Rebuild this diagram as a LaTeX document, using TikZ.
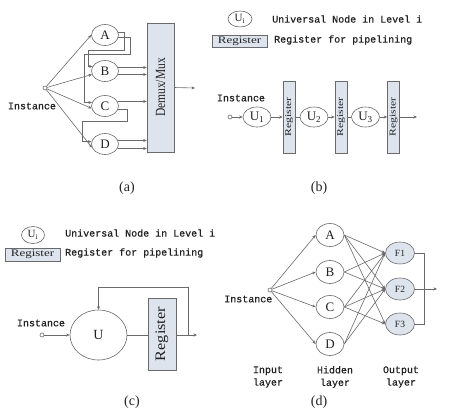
\documentclass[tikz,border=0pt]{standalone}
\usepackage{fontspec}
\setmainfont{Liberation Serif}
\newfontfamily\mono[FakeBold=0.6]{Liberation Mono}
\newfontfamily\wserif[FakeStretch=1.3]{Liberation Serif}
\newfontfamily\mserif[FakeStretch=1.12]{Liberation Serif}
\newfontfamily\nserif[FakeStretch=0.82]{Liberation Serif}
\usetikzlibrary{shapes.geometric,arrows.meta}
\definecolor{linegray}{HTML}{6A6A6A}
\definecolor{regfill}{HTML}{DDE4EE}
\definecolor{txt}{HTML}{222222}
\tikzset{
  ln/.style={draw=linegray, line width=0.6pt},
  arr/.style={ln, -{Stealth[length=3.5pt,width=3pt]}},
  nd/.style={ellipse, draw=linegray, line width=0.6pt, fill=white, inner sep=0pt,
    minimum width=27pt, minimum height=21pt, font=\fontsize{13}{13}\selectfont, text=txt},
  fnd/.style={nd, fill=regfill, minimum width=29pt, minimum height=22pt, font=\fontsize{9.5}{9.5}\selectfont},
  regbox/.style={rectangle, draw=linegray, line width=0.6pt, fill=regfill, inner sep=0pt, text=txt},
  dot/.style={circle, draw=linegray, line width=0.6pt, fill=white, inner sep=0pt, minimum size=4pt},
  mtxt/.style={font=\mono\fontsize{10}{12}\selectfont, text=txt, inner sep=0pt},
  captxt/.style={font=\fontsize{14}{14}\selectfont, text=txt, inner sep=0pt},
}
\begin{document}
\begin{tikzpicture}[x=1pt,y=-1pt]
\useasboundingbox (0,0) rectangle (474,413);
\fill[white] (0,0) rectangle (474,413);

% ---------------- (a) ----------------
\node[dot] (ia) at (45,88) {};
\node[mtxt] (iat) at (32,106) {Instance};
\node[nd] (A) at (105,35) {A};
\node[nd] (B) at (105,71) {B};
\node[nd] (C) at (105,106) {C};
\node[nd] (D) at (105,144) {D};
\node[regbox, minimum width=27pt, minimum height=129pt,
  label={[rotate=90,font=\nserif\fontsize{14}{14}\selectfont,text=txt]center:Demux/Mux}] (dm) at (160.5,87.5) {};
\coordinate (oa) at (195,88);
\draw[arr] (ia) -- (A.west);
\draw[arr] (ia) -- (B.195);
\draw[arr] (ia) -- (C.190);
\draw[arr] (ia) -- (D.195);
\draw[arr] (A.10) -| (124,50) -- (88,50) |- (B.160);
\draw[arr] (A.-10) -| (130,54) -- (84,54) |- (C.165);
\draw[arr] (C.-15) -| (127,121) -- (82,121) |- (D.170);
\draw[arr] (B.15) -- (B.15 -| dm.west);
\draw[arr] (B.-15) -- (B.-15 -| dm.west);
\draw[arr] (C.20) -- (C.20 -| dm.west);
\draw[arr] (D.15) -- (D.15 -| dm.west);
\draw[arr] (D.-20) -- (D.-20 -| dm.west);
\draw[arr] (dm.east) -- (oa);
\node[captxt] (capa) at (127,188) {(a)};

% ---------------- (b) ----------------
\node[nd, minimum width=24pt, minimum height=16pt, font=\fontsize{11}{11}\selectfont] (lub) at (240,19) {U\textsubscript{i}};
\node[mtxt, anchor=west] (lubt) at (272,19) {Universal Node in Level i};
\node[regbox, minimum width=55pt, minimum height=12pt, font=\wserif\fontsize{10}{10}\selectfont] (lrb) at (239.5,41) {Register};
\node[mtxt, anchor=west] (lrbt) at (274,40) {Register for pipelining};
\node[mtxt] (ibt) at (241,98) {Instance};
\node[dot] (ib) at (230,117) {};
\node[nd, minimum width=28pt, minimum height=20pt] (U1) at (257,117) {U\textsubscript{1}};
\node[regbox, minimum width=12pt, minimum height=72pt,
  label={[rotate=90,font=\wserif\fontsize{9}{9}\selectfont,text=txt]center:Register}] (R1) at (289,117) {};
\node[nd, minimum width=28pt, minimum height=20pt] (U2) at (314,117) {U\textsubscript{2}};
\node[regbox, minimum width=12pt, minimum height=72pt,
  label={[rotate=90,font=\wserif\fontsize{9}{9}\selectfont,text=txt]center:Register}] (R2) at (341,117) {};
\node[nd, minimum width=28pt, minimum height=20pt] (U3) at (365.5,117) {U\textsubscript{3}};
\node[regbox, minimum width=12pt, minimum height=72pt,
  label={[rotate=90,font=\wserif\fontsize{9}{9}\selectfont,text=txt]center:Register}] (R3) at (393.5,117) {};
\coordinate (ob) at (417,117);
\draw[arr] (ib) -- (U1);
\draw[arr] (U1) -- (R1);
\draw[ln] (R1) -- (U2);
\draw[arr] (U2) -- (R2);
\draw[ln] (R2) -- (U3);
\draw[arr] (U3) -- (R3);
\draw[arr] (R3) -- (ob);
\node[captxt] (capb) at (319,188) {(b)};

% ---------------- (c) ----------------
\node[nd, minimum width=23pt, minimum height=17pt, font=\fontsize{11}{11}\selectfont] (luc) at (33,235) {U\textsubscript{i}};
\node[mtxt, anchor=west] (luct) at (65,233) {Universal Node in Level i};
\node[regbox, minimum width=55pt, minimum height=13pt, font=\wserif\fontsize{10}{10}\selectfont] (lrc) at (32.5,254.5) {Register};
\node[mtxt, anchor=west] (lrct) at (65,253) {Register for pipelining};
\node[mtxt] (ict) at (41,323) {Instance};
\node[dot] (ic) at (42,335) {};
\node[nd, minimum width=57pt, minimum height=50pt, font=\fontsize{14}{14}\selectfont] (U) at (98.5,335) {U};
\node[regbox, minimum width=28pt, minimum height=72pt,
  label={[rotate=90,font=\mserif\fontsize{14.5}{14.5}\selectfont,text=txt]center:Register}] (RC) at (162,334) {};
\coordinate (oc) at (197,335);
\coordinate (fc) at (188,335);
\draw[arr] (ic) -- (U);
\draw[ln] (U.east) -- (U.east -| RC.west);
\draw[arr] (U.east -| RC.east) -- (oc);
\draw[arr] (fc) -- (188,287) -| (U.north);
\node[captxt] (capc) at (132,402) {(c)};

% ---------------- (d) ----------------
\node[dot] (id) at (270,290) {};
\node[mtxt, anchor=east] (idt) at (272.5,299) {Instance};
\node[nd, minimum width=28pt, minimum height=23pt] (hA) at (330,235) {A};
\node[nd, minimum width=28pt, minimum height=23pt] (hB) at (330,272) {B};
\node[nd, minimum width=28pt, minimum height=23pt] (hC) at (330,307) {C};
\node[nd, minimum width=28pt, minimum height=23pt] (hD) at (330,344) {D};
\node[fnd] (F1) at (400,253) {F1};
\node[fnd] (F2) at (400,289) {F2};
\node[fnd] (F3) at (400,324) {F3};
\coordinate (od) at (437,289);
\foreach \h in {hA,hB,hC,hD} \draw[arr] (id) -- (\h.west);
\foreach \h/\f in {hA/F1,hA/F2,hA/F3,hB/F1,hB/F2,hC/F1,hC/F2,hC/F3,hD/F1,hD/F2}
  \draw[arr] (\h.east) -- (\f.west);
\draw[ln] (F1.east) -- (424,253) -- (424,324) -- (F3.east);
\draw[arr] (F2.east) -- (od);
\node[mtxt, align=center, font=\mono\fontsize{10}{12.5}\selectfont] (il) at (268,377) {Input\\layer};
\node[mtxt, align=center, font=\mono\fontsize{10}{12.5}\selectfont] (hl) at (335,377) {Hidden\\layer};
\node[mtxt, align=center, font=\mono\fontsize{10}{12.5}\selectfont] (ol) at (401,377) {Output\\layer};
\node[captxt] (capd) at (319,402) {(d)};
\end{tikzpicture}
\end{document}
